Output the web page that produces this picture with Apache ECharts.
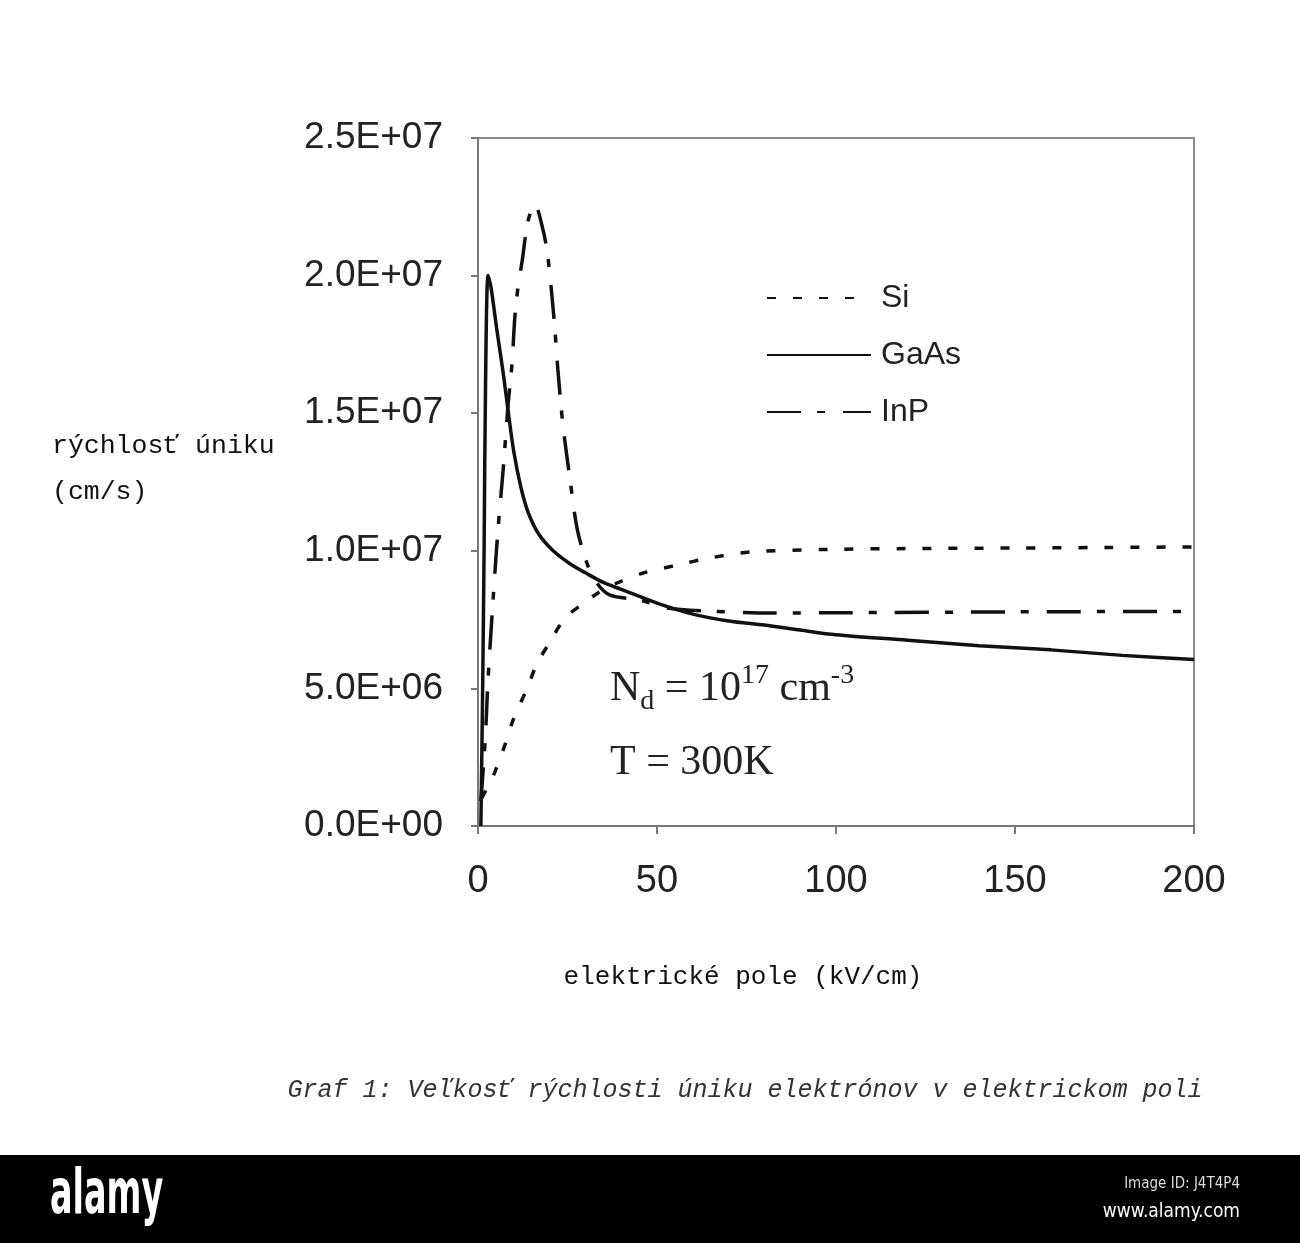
<!DOCTYPE html>
<html>
<head>
<meta charset="utf-8">
<script src="https://cdn.jsdelivr.net/npm/echarts@6/dist/echarts.min.js"></script>
<style>
html,body{margin:0;padding:0;background:#fff;}
#chart{width:1300px;height:1243px;}
</style>
</head>
<body>
<div id="chart"></div>
<script>
// ---- data ----
const seriesNames = ['Si', 'GaAs', 'InP'];
const xTicks = [0, 50, 100, 150, 200];
const yTickLabels = ['0.0E+00', '5.0E+06', '1.0E+07', '1.5E+07', '2.0E+07', '2.5E+07'];

const siField    = [1, 3, 4.7, 7.5, 9.8, 13.7, 16.5, 20.1, 24.3, 28.8, 33.5, 38.8, 46.1, 55.6, 64.8, 76.3, 98, 120, 150, 175, 200];
const siVelocity = [1.0e6, 1.5e6, 1.96e6, 2.94e6, 3.85e6, 5.0e6, 5.9e6, 6.69e6, 7.56e6, 8.03e6, 8.47e6, 8.83e6, 9.19e6, 9.48e6, 9.74e6, 9.96e6, 1.005e7, 1.008e7, 1.01e7, 1.012e7, 1.014e7];

const gaasField    = [0.8, 1.3, 1.7, 2.1, 2.8, 3.6, 5.3, 7.0, 8.5, 10, 12, 14, 17, 21, 26, 30, 35, 40, 50, 60, 70, 80, 90, 100, 120, 140, 160, 180, 200];
const gaasVelocity = [0, 5.0e6, 1.0e7, 1.6e7, 2.0e7, 1.96e7, 1.8e7, 1.65e7, 1.5e7, 1.36e7, 1.23e7, 1.14e7, 1.06e7, 1.0e7, 9.5e6, 9.2e6, 8.85e6, 8.6e6, 8.1e6, 7.7e6, 7.45e6, 7.3e6, 7.12e6, 6.95e6, 6.75e6, 6.55e6, 6.4e6, 6.2e6, 6.05e6];

const inpField    = [0.8, 2.0, 2.8, 4.2, 5.6, 7.0, 8.4, 9.5, 10.3, 11.2, 12.3, 14.0, 15.9, 17.9, 19.3, 20.7, 21.5, 22.3, 23.7, 25.7, 27.7, 30.4, 33.2, 36.9, 45.3, 52.8, 64, 82.4, 100, 150, 200];
const inpVelocity = [0.9e6, 3.1e6, 5.3e6, 8.2e6, 1.08e7, 1.29e7, 1.53e7, 1.68e7, 1.85e7, 1.96e7, 2.05e7, 2.2e7, 2.26e7, 2.18e7, 2.09e7, 1.92e7, 1.8e7, 1.66e7, 1.46e7, 1.26e7, 1.08e7, 9.56e6, 8.83e6, 8.39e6, 8.21e6, 7.92e6, 7.81e6, 7.74e6, 7.75e6, 7.78e6, 7.8e6];

const zip = (xs, ys) => xs.map((x, i) => [x, ys[i]]);

const chart = echarts.init(document.getElementById('chart'), null, {renderer: 'canvas'});
const lineColor = '#111';
const sans = '"Liberation Sans", Arial, sans-serif';
const serif = '"Liberation Serif", "Times New Roman", serif';
const mono = '"Liberation Mono", "Courier New", monospace';

const option = {
  backgroundColor: '#fff',
  animation: false,
  grid: {left: 478, top: 138, width: 716, height: 688, show: true, borderColor: '#8a8a8a', borderWidth: 2, backgroundColor: 'transparent'},
  legend: {
    data: seriesNames,
    orient: 'vertical',
    left: 766,
    top: 280,
    padding: 0,
    itemWidth: 104,
    itemHeight: 20,
    itemGap: 21,
    itemStyle: {opacity: 0},
    textStyle: {fontFamily: sans, fontSize: 32, color: '#222', lineHeight: 36, padding: [0, 0, 0, 5]}
  },
  xAxis: {
    type: 'value', min: 0, max: 200, interval: 50,
    axisLine: {lineStyle: {color: '#777', width: 2}},
    axisTick: {show: true, length: 8, lineStyle: {color: '#777', width: 2}},
    axisLabel: {fontFamily: sans, fontSize: 38, color: '#222', margin: 37,
      formatter: v => xTicks.indexOf(v) >= 0 ? String(v) : ''},
    splitLine: {show: false}
  },
  yAxis: {
    type: 'value', min: 0, max: 2.5e7, interval: 5e6,
    axisLine: {show: true, lineStyle: {color: '#777', width: 2}},
    axisTick: {show: true, length: 7, lineStyle: {color: '#777', width: 2}},
    axisLabel: {fontFamily: sans, fontSize: 37, color: '#222', margin: 35,
      formatter: v => yTickLabels[Math.round(v / 5e6)]},
    splitLine: {show: false}
  },
  series: [
    {name: 'Si', type: 'line', data: zip(siField, siVelocity), showSymbol: false, symbol: 'none',
     smooth: 0.3,
     lineStyle: {color: lineColor, width: 3.5, type: [9, 17]}, itemStyle: {color: lineColor}},
    {name: 'GaAs', type: 'line', data: zip(gaasField, gaasVelocity), showSymbol: false, symbol: 'none',
     smooth: 0.3,
     lineStyle: {color: lineColor, width: 3.5, type: 'solid'}, itemStyle: {color: lineColor}},
    {name: 'InP', type: 'line', data: zip(inpField, inpVelocity), showSymbol: false, symbol: 'none',
     smooth: 0.3,
     lineStyle: {color: lineColor, width: 3.5, type: [34, 16, 8, 18]}, itemStyle: {color: lineColor}}
  ],
  graphic: [
    {type: 'text', left: 52, top: 423, silent: true,
     style: {text: 'rýchlosť úniku\n(cm/s)', font: '26.5px ' + mono, lineHeight: 46, fill: '#111'}},
    {type: 'text', x: 743, y: 977, silent: true,
     style: {text: 'elektrické pole (kV/cm)', font: '26px ' + mono, fill: '#111', textAlign: 'center', textVerticalAlign: 'middle'}},
    {type: 'text', x: 745, y: 1090, silent: true,
     style: {text: 'Graf 1: Veľkosť rýchlosti úniku elektrónov v elektrickom poli', font: 'italic 25px ' + mono, fill: '#333', textAlign: 'center', textVerticalAlign: 'middle'}},
    {type: 'text', left: 610, top: 662, silent: true,
     style: {
       text: '{n|N}{sub|d}{n| = 10}{sup|17}{n| cm}{sup|-3}',
       fill: '#222',
       rich: {
         n: {fontFamily: serif, fontSize: 42, lineHeight: 54, verticalAlign: 'middle', fill: '#222'},
         sub: {fontFamily: serif, fontSize: 28, lineHeight: 54, verticalAlign: 'bottom', fill: '#222'},
         sup: {fontFamily: serif, fontSize: 28, lineHeight: 54, verticalAlign: 'top', fill: '#222'}
       }
     }},
    {type: 'text', left: 610, top: 742, silent: true,
     style: {text: 'T = 300K', font: '42px ' + serif, fill: '#222'}},
    {type: 'rect', shape: {x: 0, y: 1155, width: 1300, height: 88}, style: {fill: '#000'}, silent: true},
    {type: 'text', x: 50, y: 1166, scaleX: 0.6, silent: true,
     style: {text: 'alamy', font: 'bold 62px "DejaVu Sans Condensed", "Liberation Sans Narrow", sans-serif', fill: '#fff'}},
    {type: 'text', right: 60, top: 1177, silent: true,
     style: {text: 'Image ID: J4T4P4', font: '15px "DejaVu Sans Condensed", sans-serif', fill: '#ddd', textAlign: 'right'}},
    {type: 'text', right: 60, top: 1203, silent: true,
     style: {text: 'www.alamy.com', font: '19px "DejaVu Sans Condensed", sans-serif', fill: '#fff', textAlign: 'right'}}
  ]
};
chart.setOption(option);
</script>
</body>
</html>
